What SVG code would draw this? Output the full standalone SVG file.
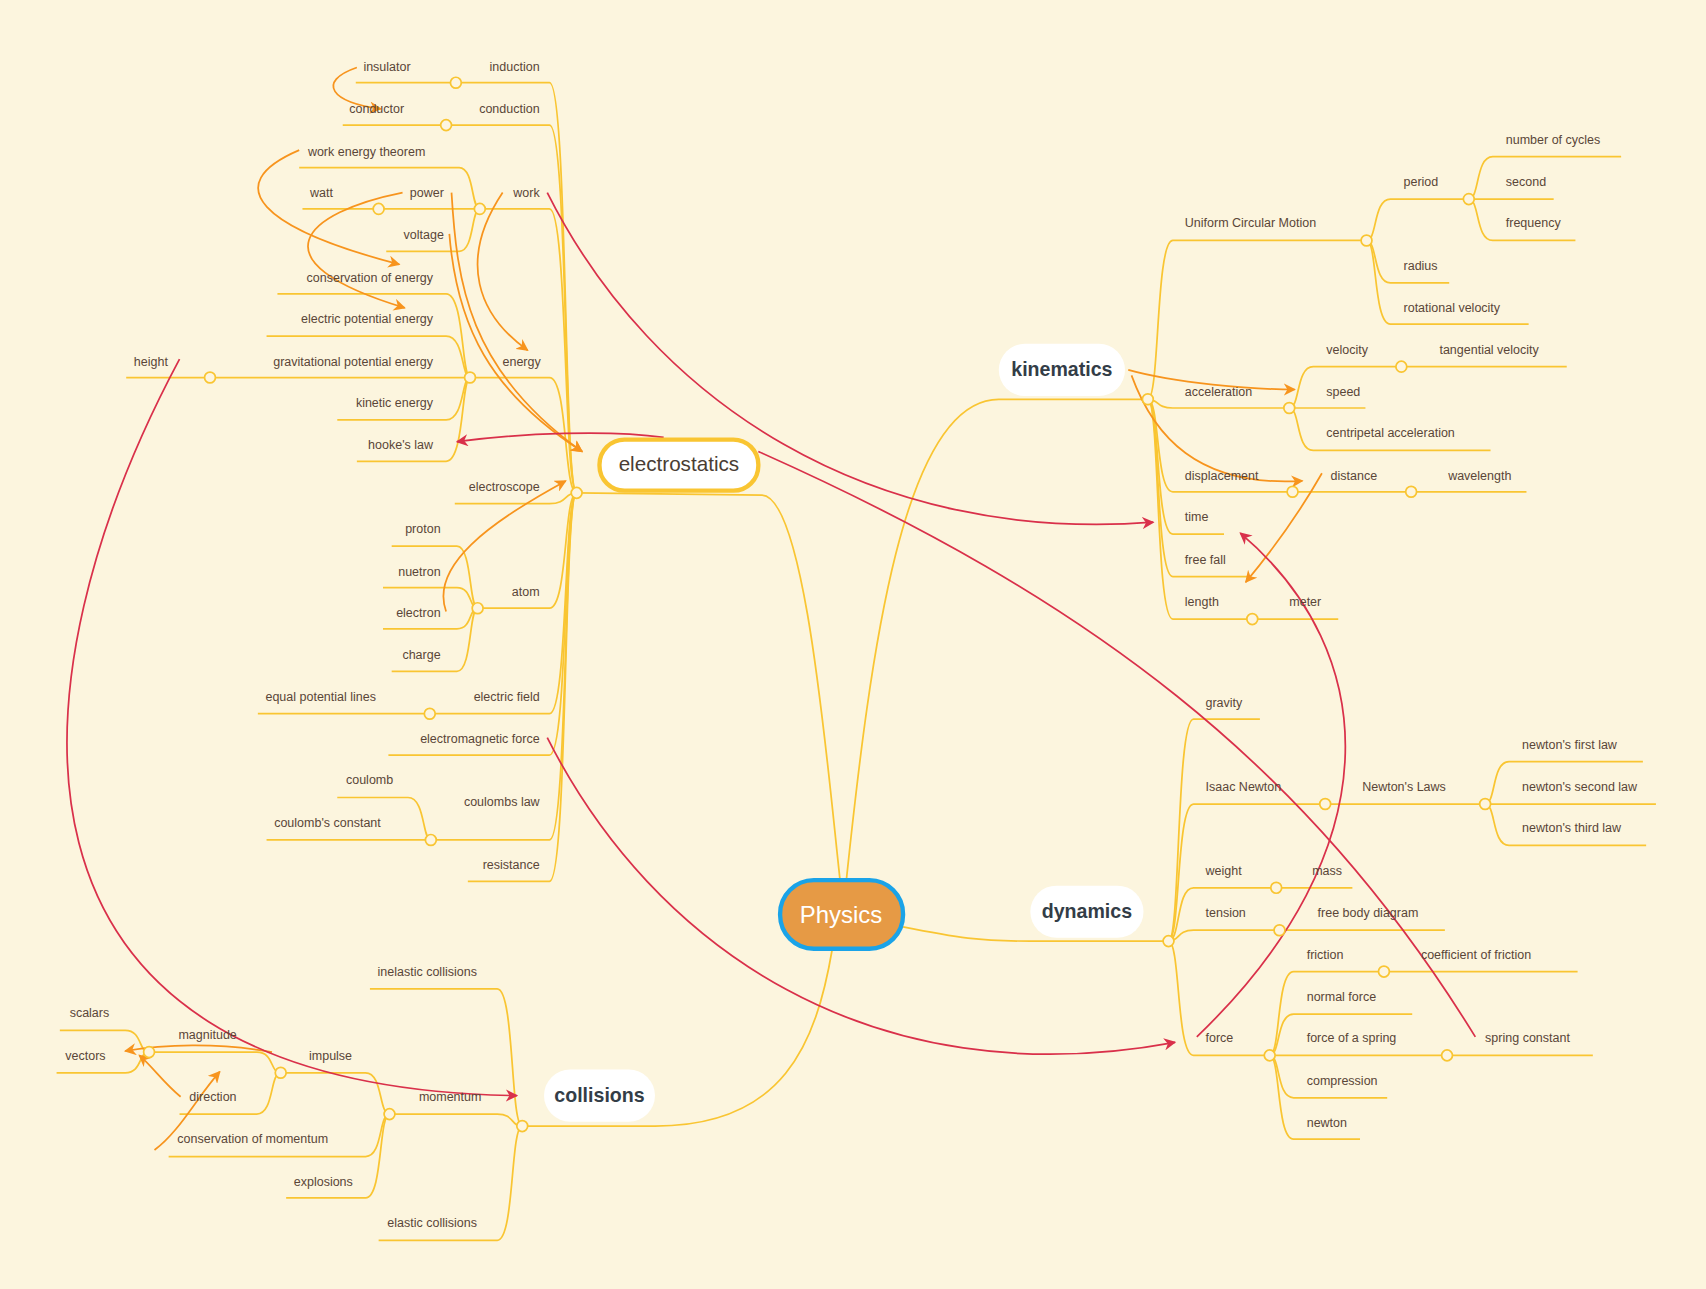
<svg xmlns="http://www.w3.org/2000/svg" width="1706" height="1289" viewBox="0 0 1706 1289">
<defs>
<style>
.b{fill:none;stroke:#f9c532;stroke-width:1.6}
.c{fill:#fdf5df;stroke:#f9c532;stroke-width:1.6}
.t{font-family:"Liberation Sans",sans-serif;font-size:11.5px;fill:#5a4638}
.e{font-family:"Liberation Sans",sans-serif;font-size:11.5px;fill:#5a4638;text-anchor:end}
.o{fill:none;stroke:#f7941d;stroke-width:1.6}
.r{fill:none;stroke:#d9304a;stroke-width:1.6}
.m{font-family:"Liberation Sans",sans-serif;font-weight:bold;font-size:18px;fill:#333d47;text-anchor:middle}
</style>
<marker id="ao" viewBox="0 0 10 10" refX="9" refY="5" markerWidth="7" markerHeight="7" orient="auto"><path d="M0,0 L10,5 L0,10 L3,5z" fill="#f7941d"/></marker>
<marker id="ar" viewBox="0 0 10 10" refX="9" refY="5" markerWidth="7" markerHeight="7" orient="auto"><path d="M0,0 L10,5 L0,10 L3,5z" fill="#d9304a"/></marker>
</defs>
<rect width="1706" height="1289" fill="#fcf5de"/>
<g transform="scale(1.088)">
<g id="connectors">
<path class="b" d="M530,453 L700,455 C740,455 760,700 772,808"/>
<path class="b" d="M778,808 C800,600 830,367 918,367 L1055,367"/>
<path class="b" d="M830,852 C880,862 900,865 947,865 L1074,865"/>
<path class="b" d="M765,872 C750,960 720,1035 602,1035 L480,1035"/>
<path class="b" d="M530,453 C518,453 522,76 505,76 L327,76"/>
<path class="b" d="M530,453 C518,453 522,115 505,115 L315,115"/>
<path class="b" d="M530,453 C518,453 522,192 505,192 L278,192"/>
<path class="b" d="M530,453 C518,453 522,347 505,347 L116,347"/>
<path class="b" d="M530,453 C518,453 522,463 505,463 L418,463"/>
<path class="b" d="M530,453 C518,453 522,559 505,559 L439,559"/>
<path class="b" d="M530,453 C518,453 522,656 505,656 L237,656"/>
<path class="b" d="M530,453 C518,453 522,694 505,694 L357,694"/>
<path class="b" d="M530,453 C518,453 522,772 505,772 L245,772"/>
<path class="b" d="M530,453 C518,453 522,810 505,810 L430,810"/>
<path class="b" d="M441,192 C433,192 436,154 422,154 L275,154"/>
<path class="b" d="M441,192 C433,192 436,231 422,231 L355,231"/>
<path class="b" d="M432,347 C424,347 427,270 410,270 L255,270"/>
<path class="b" d="M432,347 C424,347 427,309 410,309 L245,309"/>
<path class="b" d="M432,347 C424,347 427,386 410,386 L310,386"/>
<path class="b" d="M432,347 C424,347 427,424 410,424 L328,424"/>
<path class="b" d="M439,559 C431,559 434,502 420,502 L360,502"/>
<path class="b" d="M439,559 C431,559 434,540 420,540 L352,540"/>
<path class="b" d="M439,559 C431,559 434,578 420,578 L352,578"/>
<path class="b" d="M439,559 C431,559 434,617 420,617 L360,617"/>
<path class="b" d="M396,772 C388,772 391,733 375,733 L310,733"/>
<path class="b" d="M1055,367 C1066,367 1062,221 1078,221 L1256,221"/>
<path class="b" d="M1055,367 C1066,367 1062,375 1078,375 L1185,375"/>
<path class="b" d="M1055,367 C1066,367 1062,452 1078,452 L1188,452 L1403,452"/>
<path class="b" d="M1055,367 C1066,367 1062,491 1078,491 L1125,491"/>
<path class="b" d="M1055,367 C1066,367 1062,530 1078,530 L1150,530"/>
<path class="b" d="M1055,367 C1066,367 1062,569 1078,569 L1230,569"/>
<path class="b" d="M1256,221 C1266,221 1262,183 1278,183 L1350,183"/>
<path class="b" d="M1256,221 C1266,221 1262,260 1278,260 L1332,260"/>
<path class="b" d="M1256,221 C1266,221 1262,298 1278,298 L1405,298"/>
<path class="b" d="M1350,183 C1360,183 1356,144 1372,144 L1490,144"/>
<path class="b" d="M1350,183 L1428,183"/>
<path class="b" d="M1350,183 C1360,183 1356,221 1372,221 L1448,221"/>
<path class="b" d="M1185,375 C1195,375 1191,337 1207,337 L1440,337"/>
<path class="b" d="M1185,375 L1255,375"/>
<path class="b" d="M1185,375 C1195,375 1191,414 1207,414 L1370,414"/>
<path class="b" d="M1074,865 C1085,865 1081,661 1097,661 L1158,661"/>
<path class="b" d="M1074,865 C1085,865 1081,739 1097,739 L1365,739"/>
<path class="b" d="M1074,865 C1085,865 1081,816 1097,816 L1243,816"/>
<path class="b" d="M1074,865 C1085,865 1081,855 1097,855 L1328,855"/>
<path class="b" d="M1074,865 C1085,865 1081,970 1097,970 L1167,970"/>
<path class="b" d="M1365,739 C1375,739 1371,700 1387,700 L1510,700"/>
<path class="b" d="M1365,739 L1522,739"/>
<path class="b" d="M1365,739 C1375,739 1371,777 1387,777 L1513,777"/>
<path class="b" d="M1167,970 C1177,970 1173,893 1189,893 L1450,893"/>
<path class="b" d="M1167,970 C1177,970 1173,932 1189,932 L1298,932"/>
<path class="b" d="M1167,970 L1464,970"/>
<path class="b" d="M1167,970 C1177,970 1173,1009 1189,1009 L1275,1009"/>
<path class="b" d="M1167,970 C1177,970 1173,1047 1189,1047 L1250,1047"/>
<path class="b" d="M480,1035 C469,1035 473,909 457,909 L340,909"/>
<path class="b" d="M480,1035 C469,1035 473,1024 457,1024 L358,1024"/>
<path class="b" d="M480,1035 C469,1035 473,1140 457,1140 L348,1140"/>
<path class="b" d="M358,1024 C348,1024 352,986 336,986 L258,986"/>
<path class="b" d="M358,1024 C348,1024 352,1063 336,1063 L155,1063"/>
<path class="b" d="M358,1024 C348,1024 352,1101 336,1101 L263,1101"/>
<path class="b" d="M258,986 C248,986 252,967 236,967 L137,967"/>
<path class="b" d="M258,986 C248,986 252,1024 236,1024 L165,1024"/>
<path class="b" d="M137,967 C127,967 131,947 115,947 L55,947"/>
<path class="b" d="M137,967 C127,967 131,986 115,986 L52,986"/>
<path class="o" marker-end="url(#ao)" d="M328,62 C290,75 305,95 350,100"/>
<path class="o" marker-end="url(#ao)" d="M275,138 C200,170 240,210 367,243"/>
<path class="o" marker-end="url(#ao)" d="M370,177 C280,195 230,240 372,283"/>
<path class="o" marker-end="url(#ao)" d="M462,177 C420,240 440,290 485,322"/>
<path class="o" marker-end="url(#ao)" d="M415,177 C420,260 430,340 535,415"/>
<path class="o" marker-end="url(#ao)" d="M413,215 C420,300 450,360 535,415"/>
<path class="o" marker-end="url(#ao)" d="M410,562 C395,520 450,480 520,442"/>
<path class="o" marker-end="url(#ao)" d="M1037,340 C1080,352 1150,358 1190,358"/>
<path class="o" marker-end="url(#ao)" d="M1040,345 C1060,400 1100,448 1197,442"/>
<path class="o" marker-end="url(#ao)" d="M1215,435 C1195,470 1170,505 1145,535"/>
<path class="o" marker-end="url(#ao)" d="M166,1008 C150,995 140,980 128,970"/>
<path class="o" marker-end="url(#ao)" d="M142,1057 C165,1040 180,1010 202,985"/>
<path class="o" marker-end="url(#ao)" d="M250,967 C200,958 150,960 115,966"/>
<path class="r" marker-end="url(#ar)" d="M503,177 C600,370 800,500 1060,480"/>
<path class="r" marker-end="url(#ar)" d="M610,402 C560,395 480,398 420,406"/>
<path class="r" d="M1356,953 C1200,700 1000,550 697,415"/>
<path class="r" marker-end="url(#ar)" d="M503,678 C600,870 800,1010 1080,958"/>
<path class="r" marker-end="url(#ar)" d="M165,330 C10,620 -30,1000 475,1007"/>
<path class="r" marker-end="url(#ar)" d="M1100,953 C1280,780 1270,600 1140,490"/>
</g>
<g id="circles">
<circle class="c" cx="419" cy="76" r="5"/><circle class="c" cx="410" cy="115" r="5"/>
<circle class="c" cx="441" cy="192" r="5"/><circle class="c" cx="348" cy="192" r="5"/>
<circle class="c" cx="432" cy="347" r="5"/><circle class="c" cx="193" cy="347" r="5"/>
<circle class="c" cx="439" cy="559" r="5"/><circle class="c" cx="395" cy="656" r="5"/>
<circle class="c" cx="396" cy="772" r="5"/><circle class="c" cx="530" cy="453" r="5"/>
<circle class="c" cx="1055" cy="367" r="5"/><circle class="c" cx="1256" cy="221" r="5"/>
<circle class="c" cx="1350" cy="183" r="5"/><circle class="c" cx="1185" cy="375" r="5"/>
<circle class="c" cx="1288" cy="337" r="5"/><circle class="c" cx="1188" cy="452" r="5"/>
<circle class="c" cx="1297" cy="452" r="5"/><circle class="c" cx="1151" cy="569" r="5"/>
<circle class="c" cx="1074" cy="865" r="5"/><circle class="c" cx="1218" cy="739" r="5"/>
<circle class="c" cx="1365" cy="739" r="5"/><circle class="c" cx="1173" cy="816" r="5"/>
<circle class="c" cx="1176" cy="855" r="5"/><circle class="c" cx="1167" cy="970" r="5"/>
<circle class="c" cx="1272" cy="893" r="5"/><circle class="c" cx="1330" cy="970" r="5"/>
<circle class="c" cx="480" cy="1035" r="5"/><circle class="c" cx="358" cy="1024" r="5"/>
<circle class="c" cx="258" cy="986" r="5"/><circle class="c" cx="137" cy="967" r="5"/>
</g>
<g id="physics"><rect x="717" y="809" width="113" height="63" rx="31" fill="#e69a45" stroke="#1aa3e8" stroke-width="4"/><text x="773" y="848" font-family="Liberation Sans,sans-serif" font-size="22" fill="#fff" text-anchor="middle">Physics</text></g>
<g id="electrostatics"><rect x="551" y="404" width="146" height="47" rx="23" fill="#fff" stroke="#f9c532" stroke-width="4"/><text x="624" y="433" font-family="Liberation Sans,sans-serif" font-size="19" fill="#4a3d33" text-anchor="middle">electrostatics</text></g>
<g id="kinematics"><rect x="918" y="316" width="116" height="48" rx="24" fill="#fff"/><text class="m" x="976" y="346">kinematics</text></g>
<g id="dynamics"><rect x="947" y="814" width="104" height="48" rx="24" fill="#fff"/><text class="m" x="999" y="844">dynamics</text></g>
<g id="collisions"><rect x="500" y="983" width="102" height="48" rx="24" fill="#fff"/><text class="m" x="551" y="1013">collisions</text></g>
<g id="labels">
<text class="t" x="334" y="65">insulator</text><text class="e" x="496" y="65">induction</text>
<text class="t" x="321" y="104">conductor</text><text class="e" x="496" y="104">conduction</text>
<text class="t" x="283" y="143">work energy theorem</text>
<text class="t" x="285" y="181">watt</text><text class="e" x="408" y="181">power</text><text class="e" x="496" y="181">work</text>
<text class="e" x="408" y="220">voltage</text>
<text class="e" x="398" y="259">conservation of energy</text>
<text class="e" x="398" y="297">electric potential energy</text>
<text class="t" x="123" y="336">height</text><text class="e" x="398" y="336">gravitational potential energy</text><text class="e" x="497" y="336">energy</text>
<text class="e" x="398" y="374">kinetic energy</text>
<text class="e" x="398" y="413">hooke's law</text>
<text class="e" x="496" y="451">electroscope</text>
<text class="e" x="405" y="490">proton</text>
<text class="e" x="405" y="529">nuetron</text>
<text class="e" x="405" y="567">electron</text>
<text class="e" x="405" y="606">charge</text>
<text class="e" x="496" y="548">atom</text>
<text class="t" x="244" y="644">equal potential lines</text><text class="e" x="496" y="644">electric field</text>
<text class="e" x="496" y="683">electromagnetic force</text>
<text class="t" x="318" y="721">coulomb</text>
<text class="t" x="252" y="760">coulomb's constant</text><text class="e" x="496" y="741">coulombs law</text>
<text class="e" x="496" y="799">resistance</text>
<text class="t" x="1089" y="209">Uniform Circular Motion</text>
<text class="t" x="1290" y="171">period</text>
<text class="t" x="1384" y="132">number of cycles</text>
<text class="t" x="1384" y="171">second</text>
<text class="t" x="1384" y="209">frequency</text>
<text class="t" x="1290" y="248">radius</text>
<text class="t" x="1290" y="287">rotational velocity</text>
<text class="t" x="1219" y="325">velocity</text><text class="t" x="1323" y="325">tangential velocity</text>
<text class="t" x="1089" y="364">acceleration</text><text class="t" x="1219" y="364">speed</text>
<text class="t" x="1219" y="402">centripetal acceleration</text>
<text class="t" x="1089" y="441">displacement</text><text class="t" x="1223" y="441">distance</text><text class="t" x="1331" y="441">wavelength</text>
<text class="t" x="1089" y="479">time</text>
<text class="t" x="1089" y="518">free fall</text>
<text class="t" x="1089" y="557">length</text><text class="t" x="1185" y="557">meter</text>
<text class="t" x="1108" y="650">gravity</text>
<text class="t" x="1108" y="727">Isaac Newton</text><text class="t" x="1252" y="727">Newton's Laws</text>
<text class="t" x="1399" y="688">newton's first law</text>
<text class="t" x="1399" y="727">newton's second law</text>
<text class="t" x="1399" y="765">newton's third law</text>
<text class="t" x="1108" y="804">weight</text><text class="t" x="1206" y="804">mass</text>
<text class="t" x="1108" y="843">tension</text><text class="t" x="1211" y="843">free body diagram</text>
<text class="t" x="1201" y="881">friction</text><text class="t" x="1306" y="881">coefficient of friction</text>
<text class="t" x="1201" y="920">normal force</text>
<text class="t" x="1108" y="958">force</text><text class="t" x="1201" y="958">force of a spring</text><text class="t" x="1365" y="958">spring constant</text>
<text class="t" x="1201" y="997">compression</text>
<text class="t" x="1201" y="1036">newton</text>
<text class="t" x="347" y="897">inelastic collisions</text>
<text class="t" x="64" y="935">scalars</text>
<text class="t" x="164" y="955">magnitude</text>
<text class="t" x="60" y="974">vectors</text>
<text class="t" x="284" y="974">impulse</text>
<text class="t" x="174" y="1012">direction</text>
<text class="t" x="385" y="1012">momentum</text>
<text class="t" x="163" y="1051">conservation of momentum</text>
<text class="t" x="270" y="1090">explosions</text>
<text class="t" x="356" y="1128">elastic collisions</text>
</g>
</g>
</svg>
